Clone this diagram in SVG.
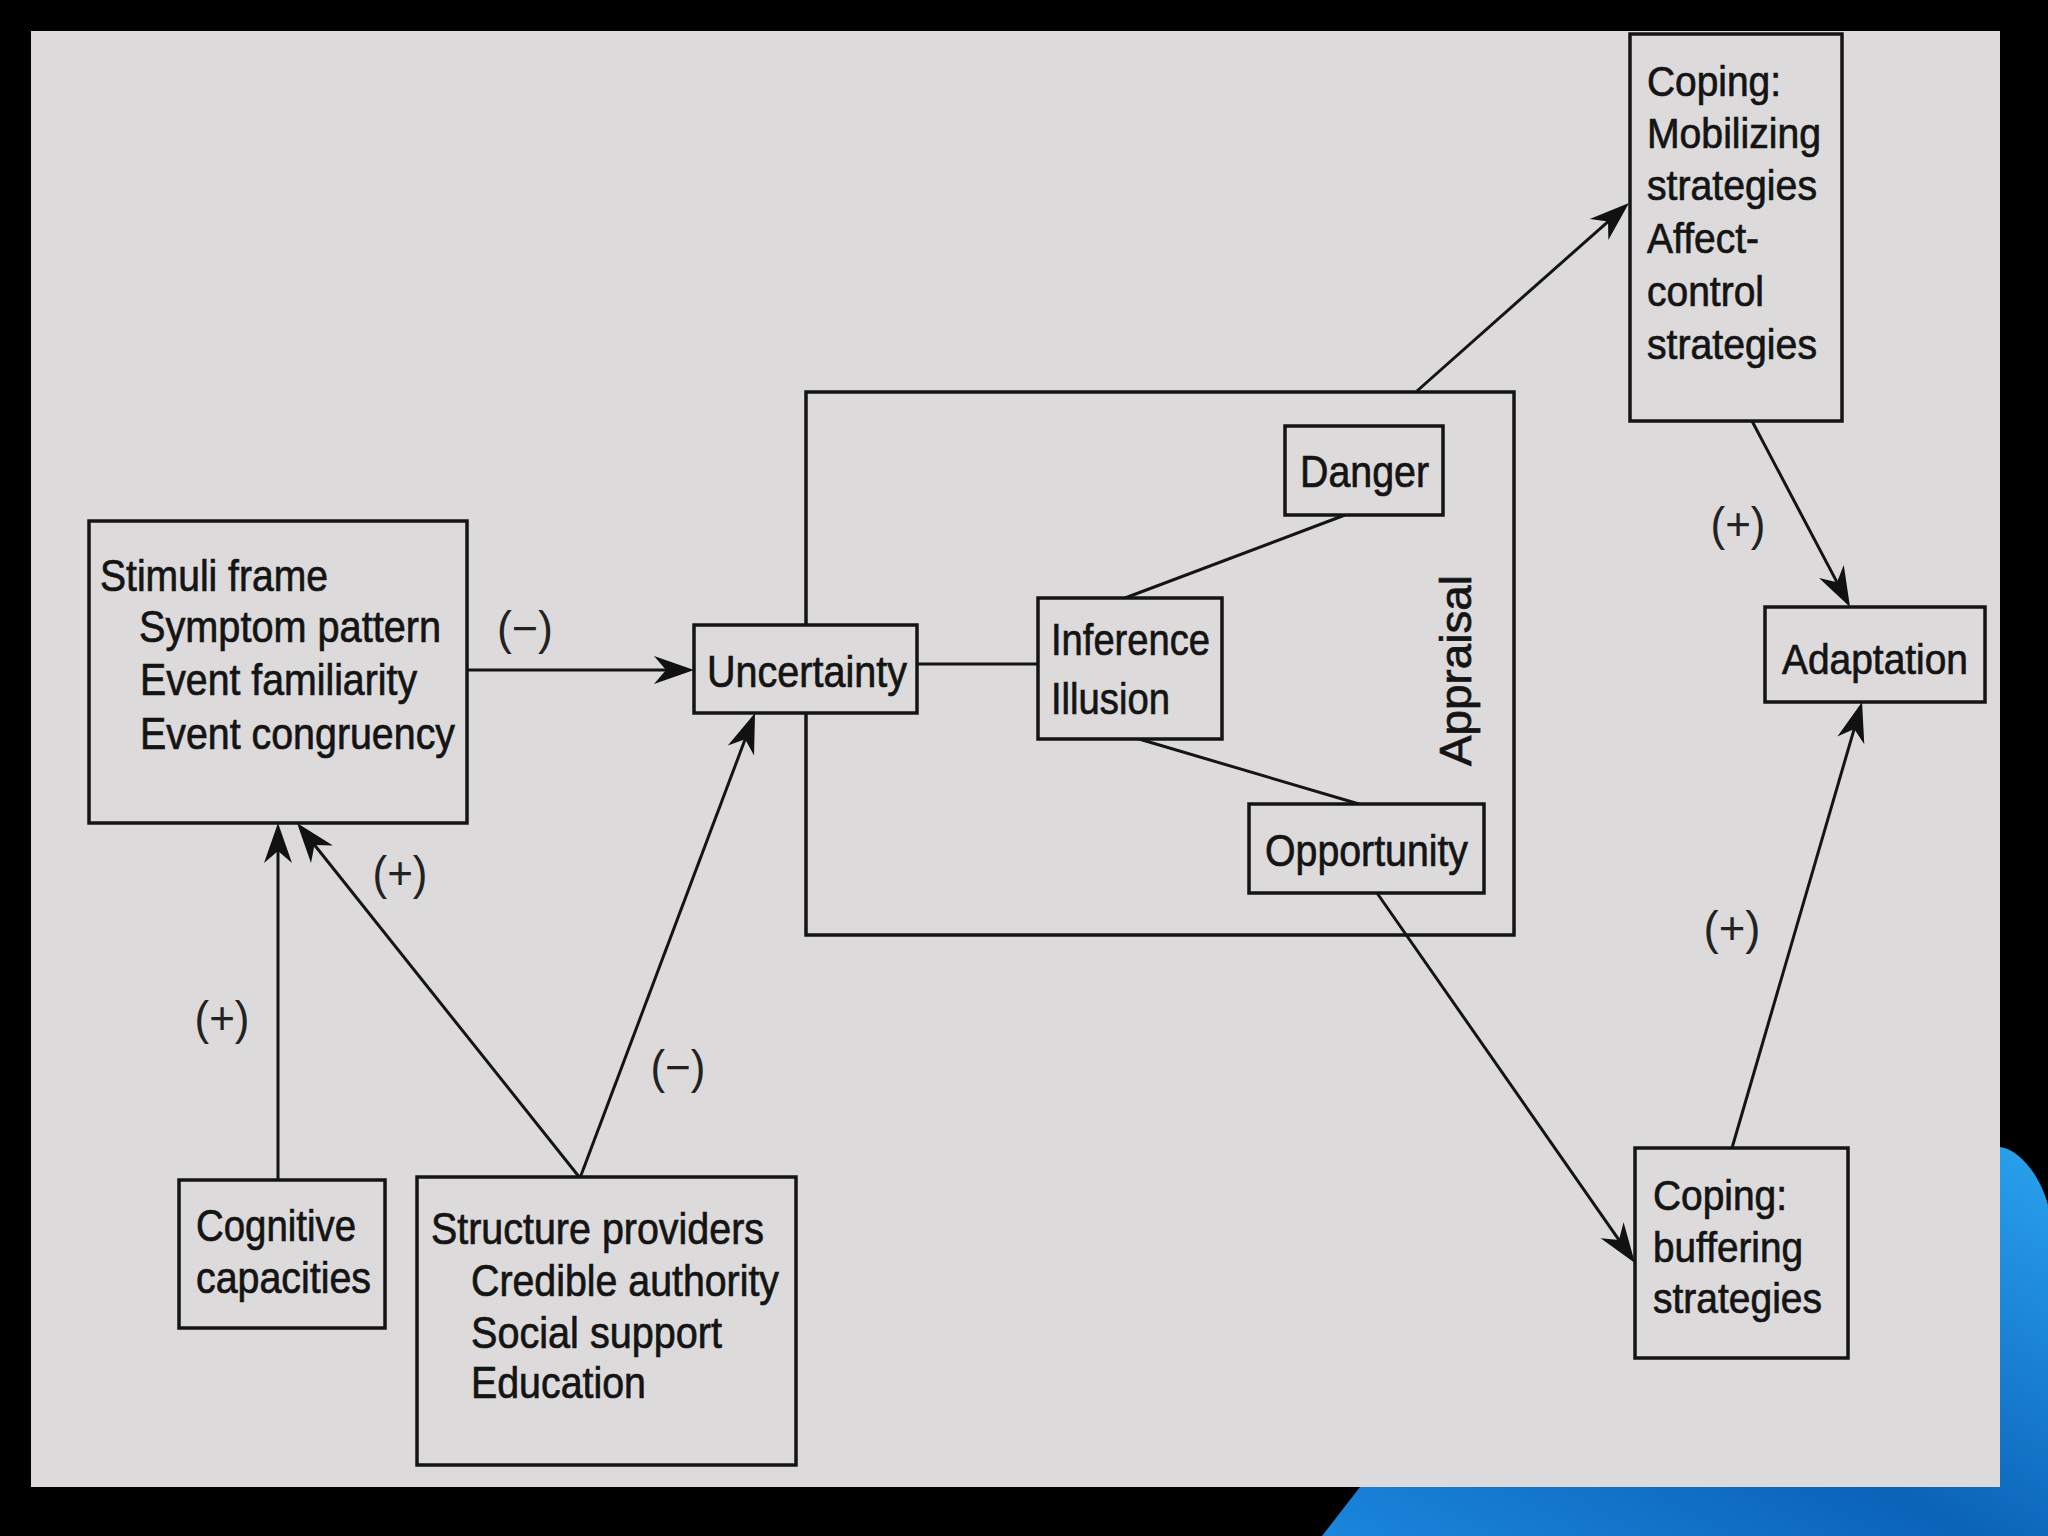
<svg xmlns="http://www.w3.org/2000/svg" width="2048" height="1536" viewBox="0 0 2048 1536">
<defs>
<style>
.box{fill:#dcdadb;stroke:#141414;stroke-width:3.5}
.ln{fill:none;stroke:#141414;stroke-width:3}
.arr{fill:none;stroke:#141414;stroke-width:3;marker-end:url(#ah)}
.t{font-family:"Liberation Sans",Arial,Helvetica,sans-serif;font-size:45px;fill:#141414;stroke:#141414;stroke-width:0.7}
.r{font-size:42px}
.lbl{font-family:"Liberation Sans",Arial,Helvetica,sans-serif;font-size:46px;fill:#222;font-weight:300}
</style>
<marker id="ah" markerUnits="userSpaceOnUse" markerWidth="50" markerHeight="34" viewBox="-42 -17 50 34" refX="-8" refY="0" orient="auto">
<path d="M0,0 L-40,-14 L-28,0 L-40,14 Z" fill="#111"/>
</marker>
<linearGradient id="blue" x1="0" y1="1" x2="1" y2="0">
<stop offset="0" stop-color="#1a86dc"/>
<stop offset="0.45" stop-color="#0b63b8"/>
<stop offset="1" stop-color="#2aa2ee"/>
</linearGradient>
</defs>
<rect x="0" y="0" width="2048" height="1536" fill="#000"/>
<rect x="31" y="31" width="1969" height="1456" fill="#dcdadb"/>
<path d="M1360,1487 L2000,1487 L2000,1147 C2020,1150 2040,1175 2048,1205 L2048,1536 L1322,1536 Z" fill="url(#blue)"/>

<g id="appraisal">
<rect class="box" x="806" y="392" width="708" height="543" fill="none"/>
<text class="t" transform="translate(1471,766) rotate(-90)" textLength="191" lengthAdjust="spacingAndGlyphs">Appraisal</text>
</g>

<g id="connectors">
<line class="arr" x1="467" y1="670" x2="686" y2="670"/>
<line class="ln" x1="917" y1="664" x2="1038" y2="664"/>
<line class="ln" x1="1125" y1="598" x2="1345" y2="515"/>
<line class="ln" x1="1139" y1="739" x2="1359" y2="804"/>
<line class="arr" x1="1417" y1="391" x2="1623" y2="208.3"/>
<line class="arr" x1="1752" y1="421" x2="1846.3" y2="599.9"/>
<line class="arr" x1="1377" y1="893" x2="1630.4" y2="1256.4"/>
<line class="arr" x1="1732" y1="1148" x2="1859.8" y2="709.7"/>
<line class="arr" x1="278" y1="1180" x2="278" y2="831"/>
<line class="arr" x1="580" y1="1178" x2="302" y2="829.3"/>
<line class="arr" x1="580" y1="1178" x2="752.2" y2="720.5"/>
</g>

<g id="labels">
<text class="lbl" x="525" y="644" text-anchor="middle" textLength="56" lengthAdjust="spacingAndGlyphs">(−)</text>
<text class="lbl" x="222" y="1034" text-anchor="middle" textLength="55" lengthAdjust="spacingAndGlyphs">(+)</text>
<text class="lbl" x="400" y="889" text-anchor="middle" textLength="55" lengthAdjust="spacingAndGlyphs">(+)</text>
<text class="lbl" x="678" y="1083" text-anchor="middle" textLength="55" lengthAdjust="spacingAndGlyphs">(−)</text>
<text class="lbl" x="1738" y="540" text-anchor="middle" textLength="55" lengthAdjust="spacingAndGlyphs">(+)</text>
<text class="lbl" x="1732" y="944" text-anchor="middle" textLength="57" lengthAdjust="spacingAndGlyphs">(+)</text>
</g>

<g id="stimuli">
<rect class="box" x="89" y="521" width="378" height="302"/>
<text class="t" x="100" y="591" textLength="228" lengthAdjust="spacingAndGlyphs">Stimuli frame</text>
<text class="t" x="139" y="642" textLength="302" lengthAdjust="spacingAndGlyphs">Symptom pattern</text>
<text class="t" x="140" y="695" textLength="277" lengthAdjust="spacingAndGlyphs">Event familiarity</text>
<text class="t" x="140" y="749" textLength="315" lengthAdjust="spacingAndGlyphs">Event congruency</text>
</g>

<g id="uncertainty">
<rect class="box" x="694" y="625" width="223" height="88"/>
<text class="t" x="707" y="687" textLength="200" lengthAdjust="spacingAndGlyphs">Uncertainty</text>
</g>

<g id="inference">
<rect class="box" x="1038" y="598" width="184" height="141"/>
<text class="t" x="1051" y="655" textLength="159" lengthAdjust="spacingAndGlyphs">Inference</text>
<text class="t" x="1051" y="714" textLength="119" lengthAdjust="spacingAndGlyphs">Illusion</text>
</g>

<g id="danger">
<rect class="box" x="1285" y="426" width="158" height="89"/>
<text class="t" x="1300" y="487" textLength="129" lengthAdjust="spacingAndGlyphs">Danger</text>
</g>

<g id="opportunity">
<rect class="box" x="1249" y="804" width="235" height="89"/>
<text class="t" x="1265" y="866" textLength="203" lengthAdjust="spacingAndGlyphs">Opportunity</text>
</g>

<g id="coping-mobilizing">
<rect class="box" x="1630" y="34" width="212" height="387"/>
<text class="t r" x="1647" y="96" textLength="134" lengthAdjust="spacingAndGlyphs">Coping:</text>
<text class="t r" x="1647" y="148" textLength="174" lengthAdjust="spacingAndGlyphs">Mobilizing</text>
<text class="t r" x="1647" y="200" textLength="170" lengthAdjust="spacingAndGlyphs">strategies</text>
<text class="t r" x="1647" y="253" textLength="112" lengthAdjust="spacingAndGlyphs">Affect-</text>
<text class="t r" x="1647" y="306" textLength="117" lengthAdjust="spacingAndGlyphs">control</text>
<text class="t r" x="1647" y="359" textLength="170" lengthAdjust="spacingAndGlyphs">strategies</text>
</g>

<g id="adaptation">
<rect class="box" x="1765" y="607" width="220" height="95"/>
<text class="t r" x="1782" y="674" textLength="186" lengthAdjust="spacingAndGlyphs">Adaptation</text>
</g>

<g id="coping-buffering">
<rect class="box" x="1635" y="1148" width="213" height="210"/>
<text class="t r" x="1653" y="1210" textLength="134" lengthAdjust="spacingAndGlyphs">Coping:</text>
<text class="t r" x="1653" y="1262" textLength="150" lengthAdjust="spacingAndGlyphs">buffering</text>
<text class="t r" x="1653" y="1313" textLength="169" lengthAdjust="spacingAndGlyphs">strategies</text>
</g>

<g id="cognitive">
<rect class="box" x="179" y="1180" width="206" height="148"/>
<text class="t" x="196" y="1241" textLength="160" lengthAdjust="spacingAndGlyphs">Cognitive</text>
<text class="t" x="196" y="1293" textLength="175" lengthAdjust="spacingAndGlyphs">capacities</text>
</g>

<g id="structure">
<rect class="box" x="417" y="1177" width="379" height="288"/>
<text class="t" x="431" y="1244" textLength="333" lengthAdjust="spacingAndGlyphs">Structure providers</text>
<text class="t" x="471" y="1296" textLength="308" lengthAdjust="spacingAndGlyphs">Credible authority</text>
<text class="t" x="471" y="1348" textLength="251" lengthAdjust="spacingAndGlyphs">Social support</text>
<text class="t" x="471" y="1398" textLength="175" lengthAdjust="spacingAndGlyphs">Education</text>
</g>
</svg>
